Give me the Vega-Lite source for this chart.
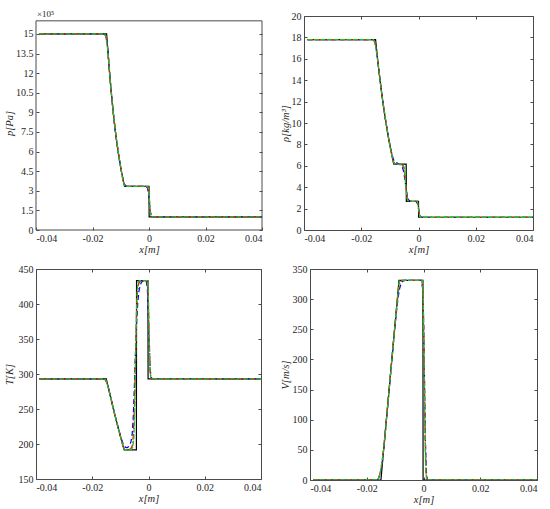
{
  "$schema": "https://vega.github.io/schema/vega-lite/v6.json",
  "background": "white",
  "padding": {"left": 3, "top": 9, "right": 0, "bottom": 0},
  "config": {
    "font": "Liberation Serif",
    "view": {"stroke": "#4a4a4a", "strokeWidth": 1},
    "axis": {
      "domain": false, "grid": false,
      "tickColor": "#4a4a4a", "tickSize": -3, "tickWidth": 1,
      "labelPadding": 6, "labelFont": "Liberation Serif", "labelFontSize": 10, "labelColor": "#262626",
      "titleFont": "Liberation Serif", "titleFontSize": 10.5, "titleFontStyle": "italic",
      "titleFontWeight": "normal", "titleColor": "#262626"
    },
    "axisX": {"titlePadding": 1},
    "axisY": {"titlePadding": 1},
    "locale": {"number": {"decimal": ".", "thousands": ",", "grouping": [3], "currency": ["$", ""], "minus": "-"}}
  },
  "data": {"values": [
    {"q":"p","s":"exact","x":-0.0388,"y":15},{"q":"p","s":"exact","x":-0.015,"y":15},{"q":"p","s":"exact","x":-0.014,"y":12.08},{"q":"p","s":"exact","x":-0.013,"y":9.68},{"q":"p","s":"exact","x":-0.012,"y":7.7},{"q":"p","s":"exact","x":-0.011,"y":6.07},{"q":"p","s":"exact","x":-0.01,"y":4.75},{"q":"p","s":"exact","x":-0.009,"y":3.68},{"q":"p","s":"exact","x":-0.00864,"y":3.33},{"q":"p","s":"exact","x":0,"y":3.33},{"q":"p","s":"exact","x":0.00005,"y":1},{"q":"p","s":"exact","x":0.04,"y":1},
    {"q":"rho","s":"exact","x":-0.0388,"y":17.8},{"q":"rho","s":"exact","x":-0.015,"y":17.8},{"q":"rho","s":"exact","x":-0.014,"y":15.25},{"q":"rho","s":"exact","x":-0.013,"y":13.05},{"q":"rho","s":"exact","x":-0.012,"y":11.1},{"q":"rho","s":"exact","x":-0.011,"y":9.4},{"q":"rho","s":"exact","x":-0.01,"y":7.9},{"q":"rho","s":"exact","x":-0.009,"y":6.6},{"q":"rho","s":"exact","x":-0.00864,"y":6.15},{"q":"rho","s":"exact","x":-0.0043,"y":6.15},{"q":"rho","s":"exact","x":-0.00425,"y":2.67},{"q":"rho","s":"exact","x":0,"y":2.67},{"q":"rho","s":"exact","x":0.00005,"y":1.19},{"q":"rho","s":"exact","x":0.04,"y":1.19},
    {"q":"T","s":"exact","x":-0.0388,"y":293},{"q":"T","s":"exact","x":-0.015,"y":293},{"q":"T","s":"exact","x":-0.014,"y":275.5},{"q":"T","s":"exact","x":-0.013,"y":258.6},{"q":"T","s":"exact","x":-0.012,"y":242.1},{"q":"T","s":"exact","x":-0.011,"y":226.3},{"q":"T","s":"exact","x":-0.01,"y":210.9},{"q":"T","s":"exact","x":-0.009,"y":196.1},{"q":"T","s":"exact","x":-0.00864,"y":191.5},{"q":"T","s":"exact","x":-0.0043,"y":191.5},{"q":"T","s":"exact","x":-0.00425,"y":433.5},{"q":"T","s":"exact","x":-0.0002,"y":433.5},{"q":"T","s":"exact","x":-0.00015,"y":293},{"q":"T","s":"exact","x":0.04,"y":293},
    {"q":"V","s":"exact","x":-0.0388,"y":0},{"q":"V","s":"exact","x":-0.015,"y":0},{"q":"V","s":"exact","x":-0.014,"y":52.2},{"q":"V","s":"exact","x":-0.013,"y":104.2},{"q":"V","s":"exact","x":-0.012,"y":156.2},{"q":"V","s":"exact","x":-0.011,"y":208.2},{"q":"V","s":"exact","x":-0.01,"y":260.3},{"q":"V","s":"exact","x":-0.009,"y":312.2},{"q":"V","s":"exact","x":-0.00864,"y":331},{"q":"V","s":"exact","x":-0.0002,"y":331},{"q":"V","s":"exact","x":-0.00015,"y":0},{"q":"V","s":"exact","x":0.04,"y":0},

    {"q":"p","s":"s1","x":-0.0388,"y":15},{"q":"p","s":"s1","x":-0.016,"y":15},{"q":"p","s":"s1","x":-0.0154,"y":14.9},{"q":"p","s":"s1","x":-0.0148,"y":14.4},{"q":"p","s":"s1","x":-0.0142,"y":12.8},{"q":"p","s":"s1","x":-0.0135,"y":10.9},{"q":"p","s":"s1","x":-0.0125,"y":8.65},{"q":"p","s":"s1","x":-0.0115,"y":6.85},{"q":"p","s":"s1","x":-0.0105,"y":5.4},{"q":"p","s":"s1","x":-0.0097,"y":4.4},{"q":"p","s":"s1","x":-0.0092,"y":3.85},{"q":"p","s":"s1","x":-0.0087,"y":3.5},{"q":"p","s":"s1","x":-0.0081,"y":3.36},{"q":"p","s":"s1","x":-0.0072,"y":3.33},{"q":"p","s":"s1","x":-0.001,"y":3.33},{"q":"p","s":"s1","x":-0.0005,"y":3.2},{"q":"p","s":"s1","x":-0.0001,"y":2.6},{"q":"p","s":"s1","x":0.0003,"y":1.7},{"q":"p","s":"s1","x":0.0007,"y":1.15},{"q":"p","s":"s1","x":0.0012,"y":1},{"q":"p","s":"s1","x":0.04,"y":1},
    {"q":"rho","s":"s1","x":-0.0388,"y":17.8},{"q":"rho","s":"s1","x":-0.016,"y":17.8},{"q":"rho","s":"s1","x":-0.0154,"y":17.65},{"q":"rho","s":"s1","x":-0.0148,"y":17},{"q":"rho","s":"s1","x":-0.0142,"y":15.8},{"q":"rho","s":"s1","x":-0.0135,"y":14.2},{"q":"rho","s":"s1","x":-0.0125,"y":12.1},{"q":"rho","s":"s1","x":-0.0115,"y":10.27},{"q":"rho","s":"s1","x":-0.0105,"y":8.68},{"q":"rho","s":"s1","x":-0.0097,"y":7.6},{"q":"rho","s":"s1","x":-0.0092,"y":7},{"q":"rho","s":"s1","x":-0.0087,"y":6.55},{"q":"rho","s":"s1","x":-0.0082,"y":6.35},{"q":"rho","s":"s1","x":-0.0076,"y":6.3},{"q":"rho","s":"s1","x":-0.007,"y":6.15},{"q":"rho","s":"s1","x":-0.0064,"y":6.1},{"q":"rho","s":"s1","x":-0.0058,"y":5.95},{"q":"rho","s":"s1","x":-0.0053,"y":5.6},{"q":"rho","s":"s1","x":-0.0048,"y":4.8},{"q":"rho","s":"s1","x":-0.0043,"y":3.8},{"q":"rho","s":"s1","x":-0.0038,"y":3.05},{"q":"rho","s":"s1","x":-0.0033,"y":2.75},{"q":"rho","s":"s1","x":-0.0026,"y":2.68},{"q":"rho","s":"s1","x":-0.0009,"y":2.67},{"q":"rho","s":"s1","x":-0.0004,"y":2.5},{"q":"rho","s":"s1","x":0,"y":2},{"q":"rho","s":"s1","x":0.0004,"y":1.45},{"q":"rho","s":"s1","x":0.0008,"y":1.23},{"q":"rho","s":"s1","x":0.0012,"y":1.19},{"q":"rho","s":"s1","x":0.04,"y":1.19},
    {"q":"T","s":"s1","x":-0.0388,"y":293},{"q":"T","s":"s1","x":-0.0159,"y":293},{"q":"T","s":"s1","x":-0.0153,"y":291.5},{"q":"T","s":"s1","x":-0.0147,"y":287},{"q":"T","s":"s1","x":-0.0142,"y":280},{"q":"T","s":"s1","x":-0.0135,"y":268},{"q":"T","s":"s1","x":-0.0125,"y":251},{"q":"T","s":"s1","x":-0.0115,"y":235},{"q":"T","s":"s1","x":-0.0105,"y":219.5},{"q":"T","s":"s1","x":-0.0097,"y":208},{"q":"T","s":"s1","x":-0.0091,"y":201},{"q":"T","s":"s1","x":-0.0086,"y":197},{"q":"T","s":"s1","x":-0.0081,"y":195},{"q":"T","s":"s1","x":-0.0076,"y":194.8},{"q":"T","s":"s1","x":-0.0071,"y":196},{"q":"T","s":"s1","x":-0.0066,"y":199},{"q":"T","s":"s1","x":-0.0062,"y":204},{"q":"T","s":"s1","x":-0.0058,"y":214},{"q":"T","s":"s1","x":-0.0054,"y":240},{"q":"T","s":"s1","x":-0.005,"y":285},{"q":"T","s":"s1","x":-0.0046,"y":335},{"q":"T","s":"s1","x":-0.0042,"y":375},{"q":"T","s":"s1","x":-0.0038,"y":403},{"q":"T","s":"s1","x":-0.0033,"y":421},{"q":"T","s":"s1","x":-0.0026,"y":430.5},{"q":"T","s":"s1","x":-0.0018,"y":433.5},{"q":"T","s":"s1","x":-0.0008,"y":433},{"q":"T","s":"s1","x":-0.0004,"y":422},{"q":"T","s":"s1","x":0,"y":375},{"q":"T","s":"s1","x":0.0004,"y":320},{"q":"T","s":"s1","x":0.0008,"y":298},{"q":"T","s":"s1","x":0.0012,"y":293.5},{"q":"T","s":"s1","x":0.04,"y":293},
    {"q":"V","s":"s1","x":-0.0388,"y":0},{"q":"V","s":"s1","x":-0.0166,"y":0},{"q":"V","s":"s1","x":-0.016,"y":1.5},{"q":"V","s":"s1","x":-0.0155,"y":6},{"q":"V","s":"s1","x":-0.015,"y":14},{"q":"V","s":"s1","x":-0.0145,"y":30},{"q":"V","s":"s1","x":-0.014,"y":52},{"q":"V","s":"s1","x":-0.0135,"y":77},{"q":"V","s":"s1","x":-0.0125,"y":129},{"q":"V","s":"s1","x":-0.0115,"y":181},{"q":"V","s":"s1","x":-0.0105,"y":232},{"q":"V","s":"s1","x":-0.0099,"y":262},{"q":"V","s":"s1","x":-0.0094,"y":285},{"q":"V","s":"s1","x":-0.0089,"y":304},{"q":"V","s":"s1","x":-0.0084,"y":318},{"q":"V","s":"s1","x":-0.0079,"y":326},{"q":"V","s":"s1","x":-0.0073,"y":330},{"q":"V","s":"s1","x":-0.0065,"y":331},{"q":"V","s":"s1","x":-0.0007,"y":331},{"q":"V","s":"s1","x":-0.0003,"y":318},{"q":"V","s":"s1","x":0.0001,"y":250},{"q":"V","s":"s1","x":0.0004,"y":150},{"q":"V","s":"s1","x":0.0007,"y":60},{"q":"V","s":"s1","x":0.001,"y":15},{"q":"V","s":"s1","x":0.0013,"y":2},{"q":"V","s":"s1","x":0.0016,"y":0},{"q":"V","s":"s1","x":0.04,"y":0},

    {"q":"p","s":"s2","x":-0.0388,"y":15},{"q":"p","s":"s2","x":-0.0158,"y":15},{"q":"p","s":"s2","x":-0.0153,"y":14.85},{"q":"p","s":"s2","x":-0.0147,"y":14.05},{"q":"p","s":"s2","x":-0.0142,"y":12.72},{"q":"p","s":"s2","x":-0.0135,"y":10.88},{"q":"p","s":"s2","x":-0.0125,"y":8.68},{"q":"p","s":"s2","x":-0.0115,"y":6.87},{"q":"p","s":"s2","x":-0.0105,"y":5.4},{"q":"p","s":"s2","x":-0.0097,"y":4.4},{"q":"p","s":"s2","x":-0.0092,"y":3.84},{"q":"p","s":"s2","x":-0.0088,"y":3.48},{"q":"p","s":"s2","x":-0.0083,"y":3.35},{"q":"p","s":"s2","x":-0.0076,"y":3.33},{"q":"p","s":"s2","x":-0.0005,"y":3.33},{"q":"p","s":"s2","x":-0.0001,"y":3},{"q":"p","s":"s2","x":0.0002,"y":2.1},{"q":"p","s":"s2","x":0.0005,"y":1.3},{"q":"p","s":"s2","x":0.0009,"y":1.02},{"q":"p","s":"s2","x":0.0012,"y":1},{"q":"p","s":"s2","x":0.04,"y":1},
    {"q":"rho","s":"s2","x":-0.0388,"y":17.8},{"q":"rho","s":"s2","x":-0.0158,"y":17.8},{"q":"rho","s":"s2","x":-0.0153,"y":17.6},{"q":"rho","s":"s2","x":-0.0147,"y":16.75},{"q":"rho","s":"s2","x":-0.0142,"y":15.77},{"q":"rho","s":"s2","x":-0.0135,"y":14.17},{"q":"rho","s":"s2","x":-0.0125,"y":12.08},{"q":"rho","s":"s2","x":-0.0115,"y":10.25},{"q":"rho","s":"s2","x":-0.0105,"y":8.66},{"q":"rho","s":"s2","x":-0.0097,"y":7.52},{"q":"rho","s":"s2","x":-0.0092,"y":6.9},{"q":"rho","s":"s2","x":-0.0088,"y":6.42},{"q":"rho","s":"s2","x":-0.0083,"y":6.2},{"q":"rho","s":"s2","x":-0.0076,"y":6.15},{"q":"rho","s":"s2","x":-0.0056,"y":6.1},{"q":"rho","s":"s2","x":-0.0051,"y":5.75},{"q":"rho","s":"s2","x":-0.0047,"y":4.9},{"q":"rho","s":"s2","x":-0.0043,"y":3.8},{"q":"rho","s":"s2","x":-0.0039,"y":3},{"q":"rho","s":"s2","x":-0.0035,"y":2.72},{"q":"rho","s":"s2","x":-0.003,"y":2.67},{"q":"rho","s":"s2","x":-0.0005,"y":2.67},{"q":"rho","s":"s2","x":-0.0001,"y":2.25},{"q":"rho","s":"s2","x":0.0003,"y":1.5},{"q":"rho","s":"s2","x":0.0006,"y":1.23},{"q":"rho","s":"s2","x":0.0009,"y":1.19},{"q":"rho","s":"s2","x":0.04,"y":1.19},
    {"q":"T","s":"s2","x":-0.0388,"y":293},{"q":"T","s":"s2","x":-0.0158,"y":293},{"q":"T","s":"s2","x":-0.0153,"y":291.8},{"q":"T","s":"s2","x":-0.0147,"y":286.5},{"q":"T","s":"s2","x":-0.0142,"y":279.5},{"q":"T","s":"s2","x":-0.0135,"y":267.5},{"q":"T","s":"s2","x":-0.0125,"y":250.5},{"q":"T","s":"s2","x":-0.0115,"y":234.3},{"q":"T","s":"s2","x":-0.0105,"y":218.8},{"q":"T","s":"s2","x":-0.0097,"y":207},{"q":"T","s":"s2","x":-0.0092,"y":199.5},{"q":"T","s":"s2","x":-0.0088,"y":194.8},{"q":"T","s":"s2","x":-0.0083,"y":192.8},{"q":"T","s":"s2","x":-0.0077,"y":192.3},{"q":"T","s":"s2","x":-0.0063,"y":193},{"q":"T","s":"s2","x":-0.0058,"y":197},{"q":"T","s":"s2","x":-0.0054,"y":212},{"q":"T","s":"s2","x":-0.005,"y":255},{"q":"T","s":"s2","x":-0.0046,"y":330},{"q":"T","s":"s2","x":-0.0042,"y":392},{"q":"T","s":"s2","x":-0.0039,"y":418},{"q":"T","s":"s2","x":-0.0035,"y":429},{"q":"T","s":"s2","x":-0.003,"y":433},{"q":"T","s":"s2","x":-0.0005,"y":433.5},{"q":"T","s":"s2","x":-0.0001,"y":415},{"q":"T","s":"s2","x":0.0003,"y":345},{"q":"T","s":"s2","x":0.0006,"y":303},{"q":"T","s":"s2","x":0.0009,"y":293.5},{"q":"T","s":"s2","x":0.04,"y":293},
    {"q":"V","s":"s2","x":-0.0388,"y":0},{"q":"V","s":"s2","x":-0.0165,"y":0},{"q":"V","s":"s2","x":-0.016,"y":2},{"q":"V","s":"s2","x":-0.0155,"y":8},{"q":"V","s":"s2","x":-0.015,"y":18},{"q":"V","s":"s2","x":-0.0145,"y":34},{"q":"V","s":"s2","x":-0.014,"y":53},{"q":"V","s":"s2","x":-0.0135,"y":77.5},{"q":"V","s":"s2","x":-0.0125,"y":130},{"q":"V","s":"s2","x":-0.0115,"y":182},{"q":"V","s":"s2","x":-0.0105,"y":233.5},{"q":"V","s":"s2","x":-0.0097,"y":274},{"q":"V","s":"s2","x":-0.0092,"y":298},{"q":"V","s":"s2","x":-0.0088,"y":314},{"q":"V","s":"s2","x":-0.0085,"y":323},{"q":"V","s":"s2","x":-0.0081,"y":329},{"q":"V","s":"s2","x":-0.0075,"y":331},{"q":"V","s":"s2","x":-0.0005,"y":331},{"q":"V","s":"s2","x":-0.0001,"y":300},{"q":"V","s":"s2","x":0.0003,"y":180},{"q":"V","s":"s2","x":0.0006,"y":70},{"q":"V","s":"s2","x":0.0009,"y":12},{"q":"V","s":"s2","x":0.0012,"y":1},{"q":"V","s":"s2","x":0.0015,"y":0},{"q":"V","s":"s2","x":0.04,"y":0},

    {"q":"p","s":"s3","x":-0.0388,"y":15},{"q":"p","s":"s3","x":-0.0157,"y":15},{"q":"p","s":"s3","x":-0.0152,"y":14.8},{"q":"p","s":"s3","x":-0.0147,"y":14},{"q":"p","s":"s3","x":-0.0142,"y":12.7},{"q":"p","s":"s3","x":-0.0135,"y":10.88},{"q":"p","s":"s3","x":-0.0125,"y":8.68},{"q":"p","s":"s3","x":-0.0115,"y":6.87},{"q":"p","s":"s3","x":-0.0105,"y":5.4},{"q":"p","s":"s3","x":-0.0097,"y":4.38},{"q":"p","s":"s3","x":-0.0092,"y":3.82},{"q":"p","s":"s3","x":-0.0088,"y":3.45},{"q":"p","s":"s3","x":-0.0084,"y":3.34},{"q":"p","s":"s3","x":-0.0078,"y":3.33},{"q":"p","s":"s3","x":-0.0004,"y":3.33},{"q":"p","s":"s3","x":-0.0001,"y":3.05},{"q":"p","s":"s3","x":0.0002,"y":2.2},{"q":"p","s":"s3","x":0.0005,"y":1.3},{"q":"p","s":"s3","x":0.0008,"y":1.03},{"q":"p","s":"s3","x":0.0011,"y":1},{"q":"p","s":"s3","x":0.04,"y":1},
    {"q":"rho","s":"s3","x":-0.0388,"y":17.8},{"q":"rho","s":"s3","x":-0.0157,"y":17.8},{"q":"rho","s":"s3","x":-0.0152,"y":17.55},{"q":"rho","s":"s3","x":-0.0147,"y":16.7},{"q":"rho","s":"s3","x":-0.0142,"y":15.75},{"q":"rho","s":"s3","x":-0.0135,"y":14.17},{"q":"rho","s":"s3","x":-0.0125,"y":12.08},{"q":"rho","s":"s3","x":-0.0115,"y":10.25},{"q":"rho","s":"s3","x":-0.0105,"y":8.65},{"q":"rho","s":"s3","x":-0.0097,"y":7.5},{"q":"rho","s":"s3","x":-0.0092,"y":6.85},{"q":"rho","s":"s3","x":-0.0088,"y":6.35},{"q":"rho","s":"s3","x":-0.0084,"y":6.17},{"q":"rho","s":"s3","x":-0.0078,"y":6.15},{"q":"rho","s":"s3","x":-0.0054,"y":6.12},{"q":"rho","s":"s3","x":-0.005,"y":5.85},{"q":"rho","s":"s3","x":-0.0047,"y":5},{"q":"rho","s":"s3","x":-0.0044,"y":3.9},{"q":"rho","s":"s3","x":-0.0041,"y":3.1},{"q":"rho","s":"s3","x":-0.0037,"y":2.72},{"q":"rho","s":"s3","x":-0.0032,"y":2.67},{"q":"rho","s":"s3","x":-0.0004,"y":2.67},{"q":"rho","s":"s3","x":-0.0001,"y":2.3},{"q":"rho","s":"s3","x":0.0002,"y":1.6},{"q":"rho","s":"s3","x":0.0005,"y":1.25},{"q":"rho","s":"s3","x":0.0008,"y":1.19},{"q":"rho","s":"s3","x":0.04,"y":1.19},
    {"q":"T","s":"s3","x":-0.0388,"y":293},{"q":"T","s":"s3","x":-0.0157,"y":293},{"q":"T","s":"s3","x":-0.0152,"y":291.5},{"q":"T","s":"s3","x":-0.0147,"y":286},{"q":"T","s":"s3","x":-0.0142,"y":279},{"q":"T","s":"s3","x":-0.0135,"y":267.5},{"q":"T","s":"s3","x":-0.0125,"y":250.5},{"q":"T","s":"s3","x":-0.0115,"y":234.3},{"q":"T","s":"s3","x":-0.0105,"y":218.8},{"q":"T","s":"s3","x":-0.0097,"y":206.7},{"q":"T","s":"s3","x":-0.0092,"y":199},{"q":"T","s":"s3","x":-0.0088,"y":194},{"q":"T","s":"s3","x":-0.0084,"y":192.3},{"q":"T","s":"s3","x":-0.0078,"y":192},{"q":"T","s":"s3","x":-0.0061,"y":192.5},{"q":"T","s":"s3","x":-0.0056,"y":195.5},{"q":"T","s":"s3","x":-0.0052,"y":208},{"q":"T","s":"s3","x":-0.0049,"y":245},{"q":"T","s":"s3","x":-0.0046,"y":320},{"q":"T","s":"s3","x":-0.0043,"y":385},{"q":"T","s":"s3","x":-0.004,"y":420},{"q":"T","s":"s3","x":-0.0037,"y":431},{"q":"T","s":"s3","x":-0.0033,"y":433.5},{"q":"T","s":"s3","x":-0.0004,"y":433.5},{"q":"T","s":"s3","x":-0.0001,"y":418},{"q":"T","s":"s3","x":0.0002,"y":360},{"q":"T","s":"s3","x":0.0005,"y":308},{"q":"T","s":"s3","x":0.0008,"y":294},{"q":"T","s":"s3","x":0.0011,"y":293},{"q":"T","s":"s3","x":0.04,"y":293},
    {"q":"V","s":"s3","x":-0.0388,"y":0},{"q":"V","s":"s3","x":-0.0164,"y":0},{"q":"V","s":"s3","x":-0.0159,"y":2},{"q":"V","s":"s3","x":-0.0154,"y":9},{"q":"V","s":"s3","x":-0.0149,"y":22},{"q":"V","s":"s3","x":-0.0144,"y":38},{"q":"V","s":"s3","x":-0.014,"y":54},{"q":"V","s":"s3","x":-0.0135,"y":78},{"q":"V","s":"s3","x":-0.0125,"y":130},{"q":"V","s":"s3","x":-0.0115,"y":182},{"q":"V","s":"s3","x":-0.0105,"y":234},{"q":"V","s":"s3","x":-0.0097,"y":275},{"q":"V","s":"s3","x":-0.0092,"y":300},{"q":"V","s":"s3","x":-0.0089,"y":316},{"q":"V","s":"s3","x":-0.0086,"y":327},{"q":"V","s":"s3","x":-0.0083,"y":330.5},{"q":"V","s":"s3","x":-0.0078,"y":331},{"q":"V","s":"s3","x":-0.0004,"y":331},{"q":"V","s":"s3","x":-0.0001,"y":305},{"q":"V","s":"s3","x":0.0002,"y":205},{"q":"V","s":"s3","x":0.0005,"y":85},{"q":"V","s":"s3","x":0.0008,"y":15},{"q":"V","s":"s3","x":0.0011,"y":1},{"q":"V","s":"s3","x":0.0014,"y":0},{"q":"V","s":"s3","x":0.04,"y":0}
  ]},
  "spacing": 8,
  "vconcat": [
    {
      "spacing": 14,
      "hconcat": [
        {
          "width": 226, "height": 214,
          "view": {"stroke": null},
          "transform": [{"filter": "datum.q === 'p'"}],
          "layer": [
            {
              "mark": {"type": "line", "clip": true},
              "encoding": {
                "x": {"field": "x", "type": "quantitative", "scale": {"domain": [-0.04, 0.04], "nice": false}, "axis": {"title": "x[m]", "values": [-0.04, -0.02, 0, 0.02, 0.04], "format": ".4~f"}},
                "y": {"field": "y", "type": "quantitative", "scale": {"domain": [0, 16.37], "nice": false}, "axis": {"orient": "left", "title": "p[Pa]", "values": [0, 1.5, 3, 4.5, 6, 7.5, 9, 10.5, 12, 13.5, 15], "format": ".4~f", "minExtent": 21, "maxExtent": 21}},
                "color": {"field": "s", "type": "nominal", "scale": {"domain": ["exact", "s1", "s2", "s3"], "range": ["#000000", "#0000ff", "#ff0000", "#22c022"]}, "legend": null},
                "strokeDash": {"field": "s", "type": "nominal", "scale": {"domain": ["exact", "s1", "s2", "s3"], "range": [[1, 0], [5, 3], [6, 2, 1, 2], [5, 1.5]]}, "legend": null},
                "strokeWidth": {"field": "s", "type": "ordinal", "scale": {"domain": ["exact", "s1", "s2", "s3"], "range": [1.2, 1.3, 1.1, 1.5]}, "legend": null}
              }
            },
            {
              "mark": {"type": "point", "opacity": 0},
              "encoding": {
                "x": {"field": "x", "type": "quantitative"},
                "y": {"field": "y", "type": "quantitative", "axis": {"orient": "right", "labels": false, "title": null, "values": [0, 1.5, 3, 4.5, 6, 7.5, 9, 10.5, 12, 13.5, 15], "minExtent": 0, "maxExtent": 0}}
              }
            },
            {
              "data": {"values": [{}]},
              "mark": {"type": "rect", "filled": false, "stroke": "#4a4a4a", "strokeWidth": 1},
              "encoding": {"x": {"datum": -0.04, "type": "quantitative"}, "x2": {"datum": 0.04}, "y": {"datum": 0, "type": "quantitative", "axis": null}, "y2": {"datum": 16}}
            },
            {
              "data": {"values": [{}]},
              "mark": {"type": "text", "align": "left", "baseline": "bottom", "dy": -2, "dx": 1, "fontSize": 9, "font": "Liberation Serif", "color": "#262626"},
              "encoding": {"x": {"datum": -0.04, "type": "quantitative"}, "y": {"datum": 16, "type": "quantitative", "axis": null}, "text": {"value": "×10⁵"}}
            }
          ],
          "resolve": {"axis": {"y": "independent"}}
        },
        {
          "width": 229, "height": 214,
          "transform": [{"filter": "datum.q === 'rho'"}],
          "layer": [
            {
              "mark": {"type": "line", "clip": true},
              "encoding": {
                "x": {"field": "x", "type": "quantitative", "scale": {"domain": [-0.04, 0.04], "nice": false}, "axis": {"title": "x[m]", "values": [-0.04, -0.02, 0, 0.02, 0.04], "format": ".4~f"}},
                "y": {"field": "y", "type": "quantitative", "scale": {"domain": [0, 20], "nice": false}, "axis": {"title": "ρ[kg/m³]", "values": [0, 2, 4, 6, 8, 10, 12, 14, 16, 18, 20], "format": ".4~f", "minExtent": 13, "maxExtent": 13}},
                "color": {"field": "s", "type": "nominal", "scale": {"domain": ["exact", "s1", "s2", "s3"], "range": ["#000000", "#0000ff", "#ff0000", "#22c022"]}, "legend": null},
                "strokeDash": {"field": "s", "type": "nominal", "scale": {"domain": ["exact", "s1", "s2", "s3"], "range": [[1, 0], [5, 3], [6, 2, 1, 2], [5, 1.5]]}, "legend": null},
                "strokeWidth": {"field": "s", "type": "ordinal", "scale": {"domain": ["exact", "s1", "s2", "s3"], "range": [1.2, 1.3, 1.1, 1.5]}, "legend": null}
              }
            },
            {
              "mark": {"type": "point", "opacity": 0},
              "encoding": {
                "x": {"field": "x", "type": "quantitative", "axis": {"orient": "top", "labels": false, "title": null, "values": [-0.04, -0.02, 0, 0.02, 0.04], "minExtent": 0, "maxExtent": 0}},
                "y": {"field": "y", "type": "quantitative", "axis": {"orient": "right", "labels": false, "title": null, "values": [0, 2, 4, 6, 8, 10, 12, 14, 16, 18, 20], "minExtent": 0, "maxExtent": 0}}
              }
            }
          ],
          "resolve": {"axis": {"x": "independent", "y": "independent"}}
        }
      ]
    },
    {
      "spacing": 14,
      "hconcat": [
        {
          "width": 225, "height": 210,
          "transform": [{"filter": "datum.q === 'T'"}],
          "layer": [
            {
              "mark": {"type": "line", "clip": true},
              "encoding": {
                "x": {"field": "x", "type": "quantitative", "scale": {"domain": [-0.04, 0.04], "nice": false}, "axis": {"title": "x[m]", "values": [-0.04, -0.02, 0, 0.02, 0.04], "format": ".4~f"}},
                "y": {"field": "y", "type": "quantitative", "scale": {"domain": [150, 450], "nice": false, "zero": false}, "axis": {"title": "T[K]", "values": [150, 200, 250, 300, 350, 400, 450], "format": ".4~f", "minExtent": 21, "maxExtent": 21}},
                "color": {"field": "s", "type": "nominal", "scale": {"domain": ["exact", "s1", "s2", "s3"], "range": ["#000000", "#0000ff", "#ff0000", "#22c022"]}, "legend": null},
                "strokeDash": {"field": "s", "type": "nominal", "scale": {"domain": ["exact", "s1", "s2", "s3"], "range": [[1, 0], [5, 3], [6, 2, 1, 2], [5, 1.5]]}, "legend": null},
                "strokeWidth": {"field": "s", "type": "ordinal", "scale": {"domain": ["exact", "s1", "s2", "s3"], "range": [1.2, 1.3, 1.1, 1.5]}, "legend": null}
              }
            },
            {
              "mark": {"type": "point", "opacity": 0},
              "encoding": {
                "x": {"field": "x", "type": "quantitative", "axis": {"orient": "top", "labels": false, "title": null, "values": [-0.04, -0.02, 0, 0.02, 0.04], "minExtent": 0, "maxExtent": 0}},
                "y": {"field": "y", "type": "quantitative", "axis": {"orient": "right", "labels": false, "title": null, "values": [150, 200, 250, 300, 350, 400, 450], "minExtent": 0, "maxExtent": 0}}
              }
            }
          ],
          "resolve": {"axis": {"x": "independent", "y": "independent"}}
        },
        {
          "width": 227, "height": 211,
          "transform": [{"filter": "datum.q === 'V'"}],
          "layer": [
            {
              "mark": {"type": "line", "clip": true},
              "encoding": {
                "x": {"field": "x", "type": "quantitative", "scale": {"domain": [-0.04, 0.04], "nice": false}, "axis": {"title": "x[m]", "values": [-0.04, -0.02, 0, 0.02, 0.04], "format": ".4~f"}},
                "y": {"field": "y", "type": "quantitative", "scale": {"domain": [0, 350], "nice": false}, "axis": {"title": "V[m/s]", "values": [0, 50, 100, 150, 200, 250, 300, 350], "format": ".4~f", "minExtent": 19, "maxExtent": 19}},
                "color": {"field": "s", "type": "nominal", "scale": {"domain": ["exact", "s1", "s2", "s3"], "range": ["#000000", "#0000ff", "#ff0000", "#22c022"]}, "legend": null},
                "strokeDash": {"field": "s", "type": "nominal", "scale": {"domain": ["exact", "s1", "s2", "s3"], "range": [[1, 0], [5, 3], [6, 2, 1, 2], [5, 1.5]]}, "legend": null},
                "strokeWidth": {"field": "s", "type": "ordinal", "scale": {"domain": ["exact", "s1", "s2", "s3"], "range": [1.2, 1.3, 1.1, 1.5]}, "legend": null}
              }
            },
            {
              "mark": {"type": "point", "opacity": 0},
              "encoding": {
                "x": {"field": "x", "type": "quantitative", "axis": {"orient": "top", "labels": false, "title": null, "values": [-0.04, -0.02, 0, 0.02, 0.04], "minExtent": 0, "maxExtent": 0}},
                "y": {"field": "y", "type": "quantitative", "axis": {"orient": "right", "labels": false, "title": null, "values": [0, 50, 100, 150, 200, 250, 300, 350], "minExtent": 0, "maxExtent": 0}}
              }
            }
          ],
          "resolve": {"axis": {"x": "independent", "y": "independent"}}
        }
      ]
    }
  ]
}
